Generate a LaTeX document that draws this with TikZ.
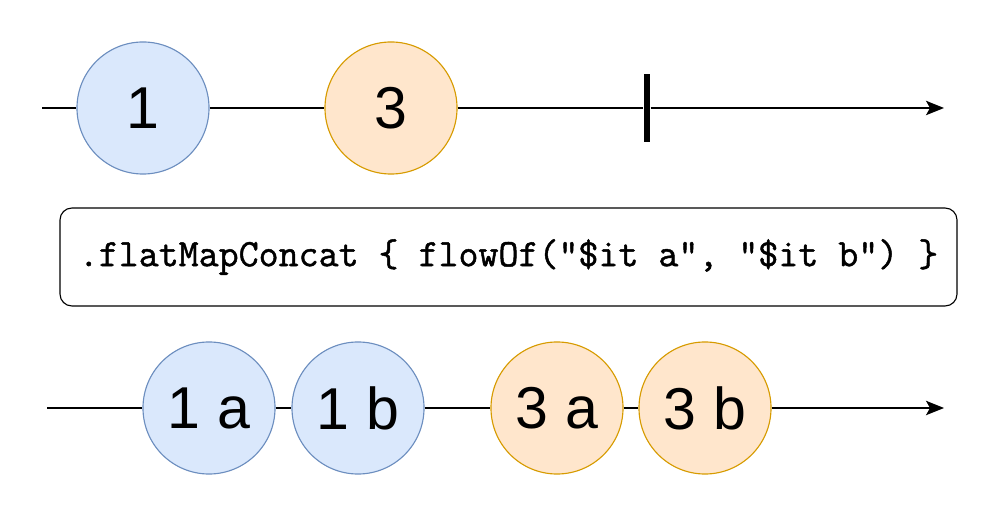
\documentclass[tikz,border=0pt]{standalone}
\usepackage{fontspec}
\setmainfont{Liberation Sans}
\newfontfamily\codefont{Latin Modern Mono}[FakeBold=1.2]
\usetikzlibrary{arrows.meta}
\usetikzlibrary{positioning}
\definecolor{mblue}{HTML}{DAE8FC}
\definecolor{mbluedraw}{HTML}{6C8EBF}
\definecolor{morange}{HTML}{FFE6CC}
\definecolor{morangedraw}{HTML}{D79B00}
\tikzset{ball/.style = {circle, minimum size = 3.3cm, inner sep = 0, line width = 0.8pt,
                        font = \fontsize{42}{42}\selectfont}}
\tikzset{blueball/.style = {ball, fill = mblue, draw = mbluedraw}}
\tikzset{orangeball/.style = {ball, fill = morange, draw = morangedraw}}
\tikzset{stopmark/.style = {fill, rectangle, inner sep = 0, minimum width = 0.17cm, minimum height = 1.7cm}}
\tikzset{opbox/.style = {draw, rounded corners = 0.3cm, line width = 0.8pt,
                         minimum width = 22.42cm, minimum height = 2.45cm,
                         font = \codefont\fontsize{27.6}{27.6}\selectfont}}
\tikzset{timeline/.style = {line width = 1pt}}
\tikzset{flow/.style = {timeline, -{Stealth[length = 0.45cm, width = 0.36cm, inset = 0.1cm]}}}

\begin{document}
\begin{tikzpicture}[x=0.025cm, y=-0.025cm]
    \useasboundingbox (0, 0) rectangle (1000, 517);

    % upstream
    \coordinate (in start) at (42, 108);
    \coordinate (in end) at (944, 108);
    \node [blueball] (one) at (143, 108) {1};
    \node [orangeball] (three) at (391, 108) {3};
    \node [stopmark] (done) at (647, 108) {};
    \draw [timeline] (in start) -- (one);
    \draw [timeline] (one) -- (three);
    \draw [timeline] (three) -- (done);
    \draw [flow] (done) -- (in end);

    % operator
    \node [opbox] (op) at (508.5, 257) {.flatMapConcat \{ flowOf("\$it a", "\$it b") \}};

    % downstream
    \coordinate (out start) at (47, 408);
    \coordinate (out end) at (944, 408);
    \node [blueball] (one a) at (209, 408) {1 a};
    \node [blueball] (one b) at (358, 408) {1 b};
    \node [orangeball] (three a) at (557, 408) {3 a};
    \node [orangeball] (three b) at (705, 408) {3 b};
    \draw [timeline] (out start) -- (one a);
    \draw [timeline] (one a) -- (one b);
    \draw [timeline] (one b) -- (three a);
    \draw [timeline] (three a) -- (three b);
    \draw [flow] (three b) -- (out end);
\end{tikzpicture}
\end{document}
